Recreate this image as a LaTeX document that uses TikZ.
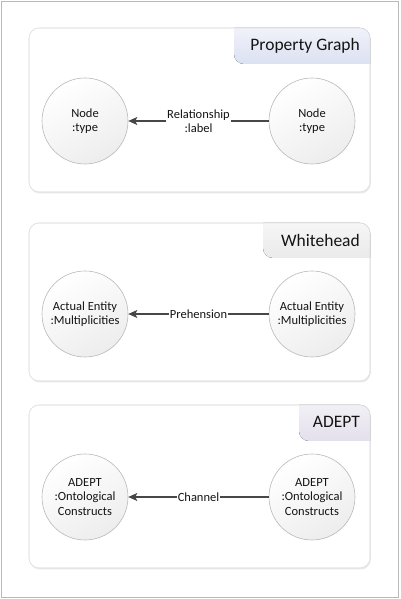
\documentclass[tikz,border=0pt]{standalone}
\usepackage{fontspec}
\setmainfont{Carlito}
\usetikzlibrary{arrows.meta,shadows}
\definecolor{pgtop}{RGB}{240,242,250}
\definecolor{pgbot}{RGB}{220,225,242}
\definecolor{whtop}{RGB}{246,246,246}
\definecolor{whbot}{RGB}{234,234,234}
\definecolor{adtop}{RGB}{242,240,246}
\definecolor{adbot}{RGB}{228,223,236}
\begin{document}
\begin{tikzpicture}[x=1pt,y=1pt,
  panel/.style={rounded corners=10pt,draw=gray!22,fill=white,line width=0.6pt,
    drop shadow={opacity=0.18,shadow xshift=0.8pt,shadow yshift=-1.5pt}},
  title/.style={anchor=east,font=\fontsize{17.5}{20}\selectfont,text=black!92,inner sep=0pt},
  ent/.style={circle,minimum size=86pt,inner sep=0pt,draw=gray!55,line width=0.6pt,
    top color=white,bottom color=gray!14,shading angle=30,align=center,
    font=\fontsize{12.5}{14.5}\selectfont,text=black!92},
  conn/.style={draw=black!72,line width=1.2pt,-{Stealth[length=9pt,width=8pt,inset=2pt]}},
  lbl/.style={fill=white,inner sep=1pt,align=center,font=\fontsize{12.5}{14.5}\selectfont,text=black!92}
]
\useasboundingbox (0,0) rectangle (400,599);
\draw[gray!55,line width=0.8pt] (1.5,1.5) rectangle (398,597.5);

% Panel 1: Property Graph
\path[panel] (29,407) rectangle (370,571);
\fill[top color=pgtop,bottom color=pgbot]
  (234,571) -- (360,571) arc[start angle=90,end angle=0,radius=10] -- (370,535)
  -- (244,535) arc[start angle=270,end angle=180,radius=10] -- cycle;
\draw[rounded corners=10pt,draw=gray!22,line width=0.6pt] (29,407) rectangle (370,571);
\node[title] (t1) at (360,553) {Property Graph};
\node[ent] (l1) at (85,478) {Node\\:type};
\node[ent] (r1) at (312,478) {Node\\:type};
\draw[conn] (r1) -- node[lbl] (e1) {Relationship\\:label} (l1);

% Panel 2: Whitehead
\path[panel] (29,218) rectangle (370,376);
\fill[top color=whtop,bottom color=whbot]
  (263,376) -- (360,376) arc[start angle=90,end angle=0,radius=10] -- (370,341)
  -- (273,341) arc[start angle=270,end angle=180,radius=10] -- cycle;
\draw[rounded corners=10pt,draw=gray!22,line width=0.6pt] (29,218) rectangle (370,376);
\node[title] (t2) at (360,359) {Whitehead};
\node[ent] (l2) at (85,285) {Actual Entity\\:Multiplicities};
\node[ent] (r2) at (312,285) {Actual Entity\\:Multiplicities};
\draw[conn] (r2) -- node[lbl] (e2) {Prehension} (l2);

% Panel 3: ADEPT
\path[panel] (29,31) rectangle (370,194);
\fill[top color=adtop,bottom color=adbot]
  (299,194) -- (360,194) arc[start angle=90,end angle=0,radius=10] -- (370,158)
  -- (309,158) arc[start angle=270,end angle=180,radius=10] -- cycle;
\draw[rounded corners=10pt,draw=gray!22,line width=0.6pt] (29,31) rectangle (370,194);
\node[title] (t3) at (360,177) {ADEPT};
\node[ent] (l3) at (85,102) {ADEPT\\:Ontological\\Constructs};
\node[ent] (r3) at (312,102) {ADEPT\\:Ontological\\Constructs};
\draw[conn] (r3) -- node[lbl] (e3) {Channel} (l3);
\end{tikzpicture}
\end{document}
